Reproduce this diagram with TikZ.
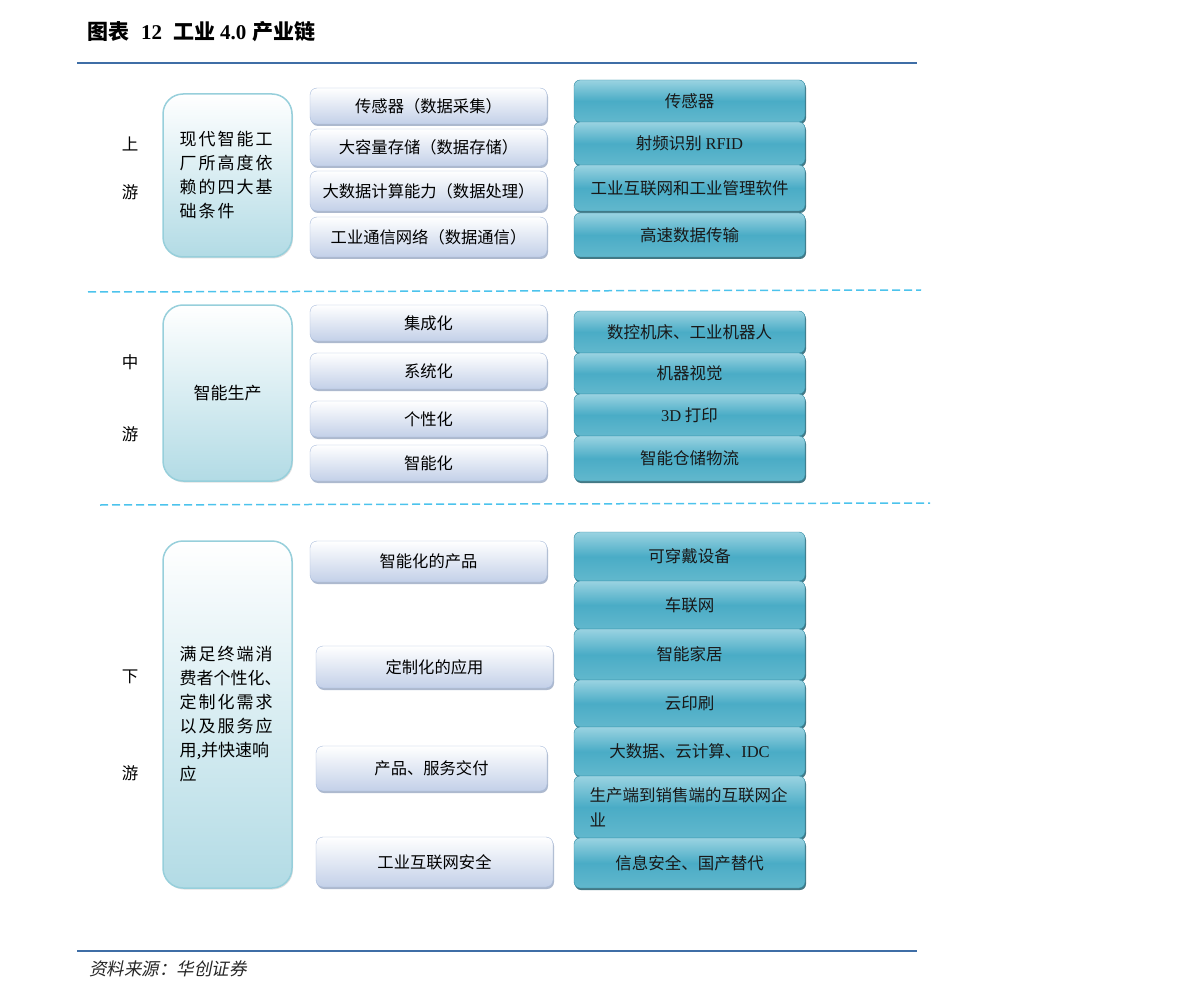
\documentclass[tikz,border=0pt]{standalone}
\usepackage{fontspec}
\setmainfont{Noto Sans CJK SC}
\newfontfamily\lat{Liberation Serif}
\newfontfamily\cjkwide{Noto Sans CJK SC}[LetterSpace=12]
\newfontfamily\cjkit{Noto Sans CJK SC}[FakeSlant=0.2]
\usetikzlibrary{shadows}
\definecolor{ruleBlue}{HTML}{3F6EA6}
\definecolor{dashCyan}{HTML}{4CC3EC}
\definecolor{leftLine}{HTML}{97CFDB}
\definecolor{leftBot}{HTML}{B2DBE5}
\definecolor{midLine}{HTML}{A7BADA}
\definecolor{midBot}{HTML}{C3D0E8}
\definecolor{midShadow}{HTML}{98A8C2}
\definecolor{tealTop}{HTML}{9AD3E1}
\definecolor{tealMid}{HTML}{4AACC6}
\definecolor{tealBot}{HTML}{62B8CD}
\definecolor{tealLine}{HTML}{2E8AA2}
\definecolor{tealShadow}{HTML}{23606F}

\begin{document}
\begin{tikzpicture}[x=1pt, y=-1pt,
    every node/.style={inner sep=0pt},
    stagelbl/.style={font=\fontsize{16.5}{16.5}\selectfont},
    leftbox/.style={draw=leftLine, line width=1.5pt, rounded corners=20pt,
      top color=white, bottom color=leftBot, minimum width=129pt, text width=96pt,
      align=left, font=\fontsize{17}{24}\selectfont,
      drop shadow={shadow xshift=1pt, shadow yshift=-1.5pt, fill=black!30, opacity=.4}},
    midbox/.style={draw=midLine, rounded corners=7pt, top color=white, bottom color=midBot,
      minimum width=237pt, align=center, font=\fontsize{16.3}{16.3}\selectfont,
      drop shadow={shadow xshift=1pt, shadow yshift=-2pt, fill=midShadow, opacity=.8}},
    tealbox/.style={draw=tealLine, rounded corners=6pt, top color=tealTop, bottom color=tealBot,
      middle color=tealMid, minimum width=231pt, align=center, text=black!90,
      font=\fontsize{16.5}{16.5}\selectfont,
      drop shadow={shadow xshift=1pt, shadow yshift=-2pt, fill=tealShadow, opacity=.85}}]
  \useasboundingbox (0,0) rectangle (1191,1000);

  % title and rules
  \node[anchor=west, font=\fontsize{21}{21}\selectfont\bfseries] (title) at (87,32)
    {图表\hspace{12pt}{\lat 12}\hspace{11pt}工业\hspace{5pt}{\lat 4.0}\hspace{6pt}产业链};
  \draw[ruleBlue, line width=2pt] (77,63) -- (917,63);
  \draw[ruleBlue, line width=2pt] (77,951) -- (917,951);
  \node[anchor=west, font=\fontsize{17.5}{17.5}\cjkit, text=black!85] (source) at (89,969) {资料来源：华创证券};

  % stage separators
  \draw[dashCyan, line width=1.5pt, dash pattern=on 8pt off 4pt] (88,292) -- (921,290);
  \draw[dashCyan, line width=1.5pt, dash pattern=on 8pt off 4pt] (100,505) -- (930,503);

  % stage labels
  \node[stagelbl] (up1) at (130,144) {上};
  \node[stagelbl] (up2) at (130,192) {游};
  \node[stagelbl] (mid1) at (130,362) {中};
  \node[stagelbl] (mid2) at (130,434) {游};
  \node[stagelbl] (down1) at (130,677) {下};
  \node[stagelbl] (down2) at (130,773) {游};

  % left column
  \node[leftbox, minimum height=163pt] (l1) at (227.5,175.5)
    {{\cjkwide 现代智能工}\\{\cjkwide 厂所高度依}\\{\cjkwide 赖的四大基}\\{\cjkwide 础条件}};
  \node[leftbox, minimum height=176pt, align=center] (l2) at (227.5,393) {智能生产};
  \node[leftbox, minimum height=347pt] (l3) at (227.5,714.5)
    {{\cjkwide 满足终端消}\\费者个性化、\\{\cjkwide 定制化需求}\\{\cjkwide 以及服务应}\\用,并快速响\\应};

  % middle column
  \node[midbox, minimum height=36pt] (m1) at (428.5,106) {传感器（数据采集）};
  \node[midbox, minimum height=37pt] (m2) at (428.5,147.5) {大容量存储（数据存储）};
  \node[midbox, minimum height=40pt] (m3) at (428.5,191) {大数据计算能力（数据处理）};
  \node[midbox, minimum height=40pt] (m4) at (428.5,237) {工业通信网络（数据通信）};
  \node[midbox, minimum height=36pt] (m5) at (428.5,323) {集成化};
  \node[midbox, minimum height=36pt] (m6) at (428.5,371) {系统化};
  \node[midbox, minimum height=36pt] (m7) at (428.5,419) {个性化};
  \node[midbox, minimum height=36pt] (m8) at (428.5,463) {智能化};
  \node[midbox, minimum height=41pt] (m9) at (428.5,561.5) {智能化的产品};
  \node[midbox, minimum height=42pt] (m10) at (434.5,667) {定制化的应用};
  \node[midbox, minimum height=45pt, minimum width=231pt] (m11) at (431.5,768.5) {产品、服务交付};
  \node[midbox, minimum height=50pt] (m12) at (434.5,862) {工业互联网安全};

  % right column
  \node[tealbox, minimum height=42pt] (r1) at (689.5,101) {传感器};
  \node[tealbox, minimum height=43pt] (r2) at (689.5,143.5) {射频识别 {\lat RFID}};
  \node[tealbox, minimum height=46pt] (r3) at (689.5,188) {工业互联网和工业管理软件};
  \node[tealbox, minimum height=44pt] (r4) at (689.5,235) {高速数据传输};
  \node[tealbox, minimum height=42pt] (r5) at (689.5,332) {数控机床、工业机器人};
  \node[tealbox, minimum height=41pt] (r6) at (689.5,373.5) {机器视觉};
  \node[tealbox, minimum height=42pt] (r7) at (689.5,415) {{\lat 3D} 打印};
  \node[tealbox, minimum height=45pt] (r8) at (689.5,458.5) {智能仓储物流};
  \node[tealbox, minimum height=49pt] (r9) at (689.5,556.5) {可穿戴设备};
  \node[tealbox, minimum height=48pt] (r10) at (689.5,605) {车联网};
  \node[tealbox, minimum height=51pt] (r11) at (689.5,654.5) {智能家居};
  \node[tealbox, minimum height=47pt] (r12) at (689.5,703.5) {云印刷};
  \node[tealbox, minimum height=49pt] (r13) at (689.5,751.5) {大数据、云计算、{\lat IDC}};
  \node[tealbox, minimum height=62pt, text width=200pt, align=left,
        font=\fontsize{16.5}{25}\selectfont] (r14) at (689.5,807) {生产端到销售端的互联网企\\业};
  \node[tealbox, minimum height=50pt] (r15) at (689.5,863) {信息安全、国产替代};
\end{tikzpicture}
\end{document}
